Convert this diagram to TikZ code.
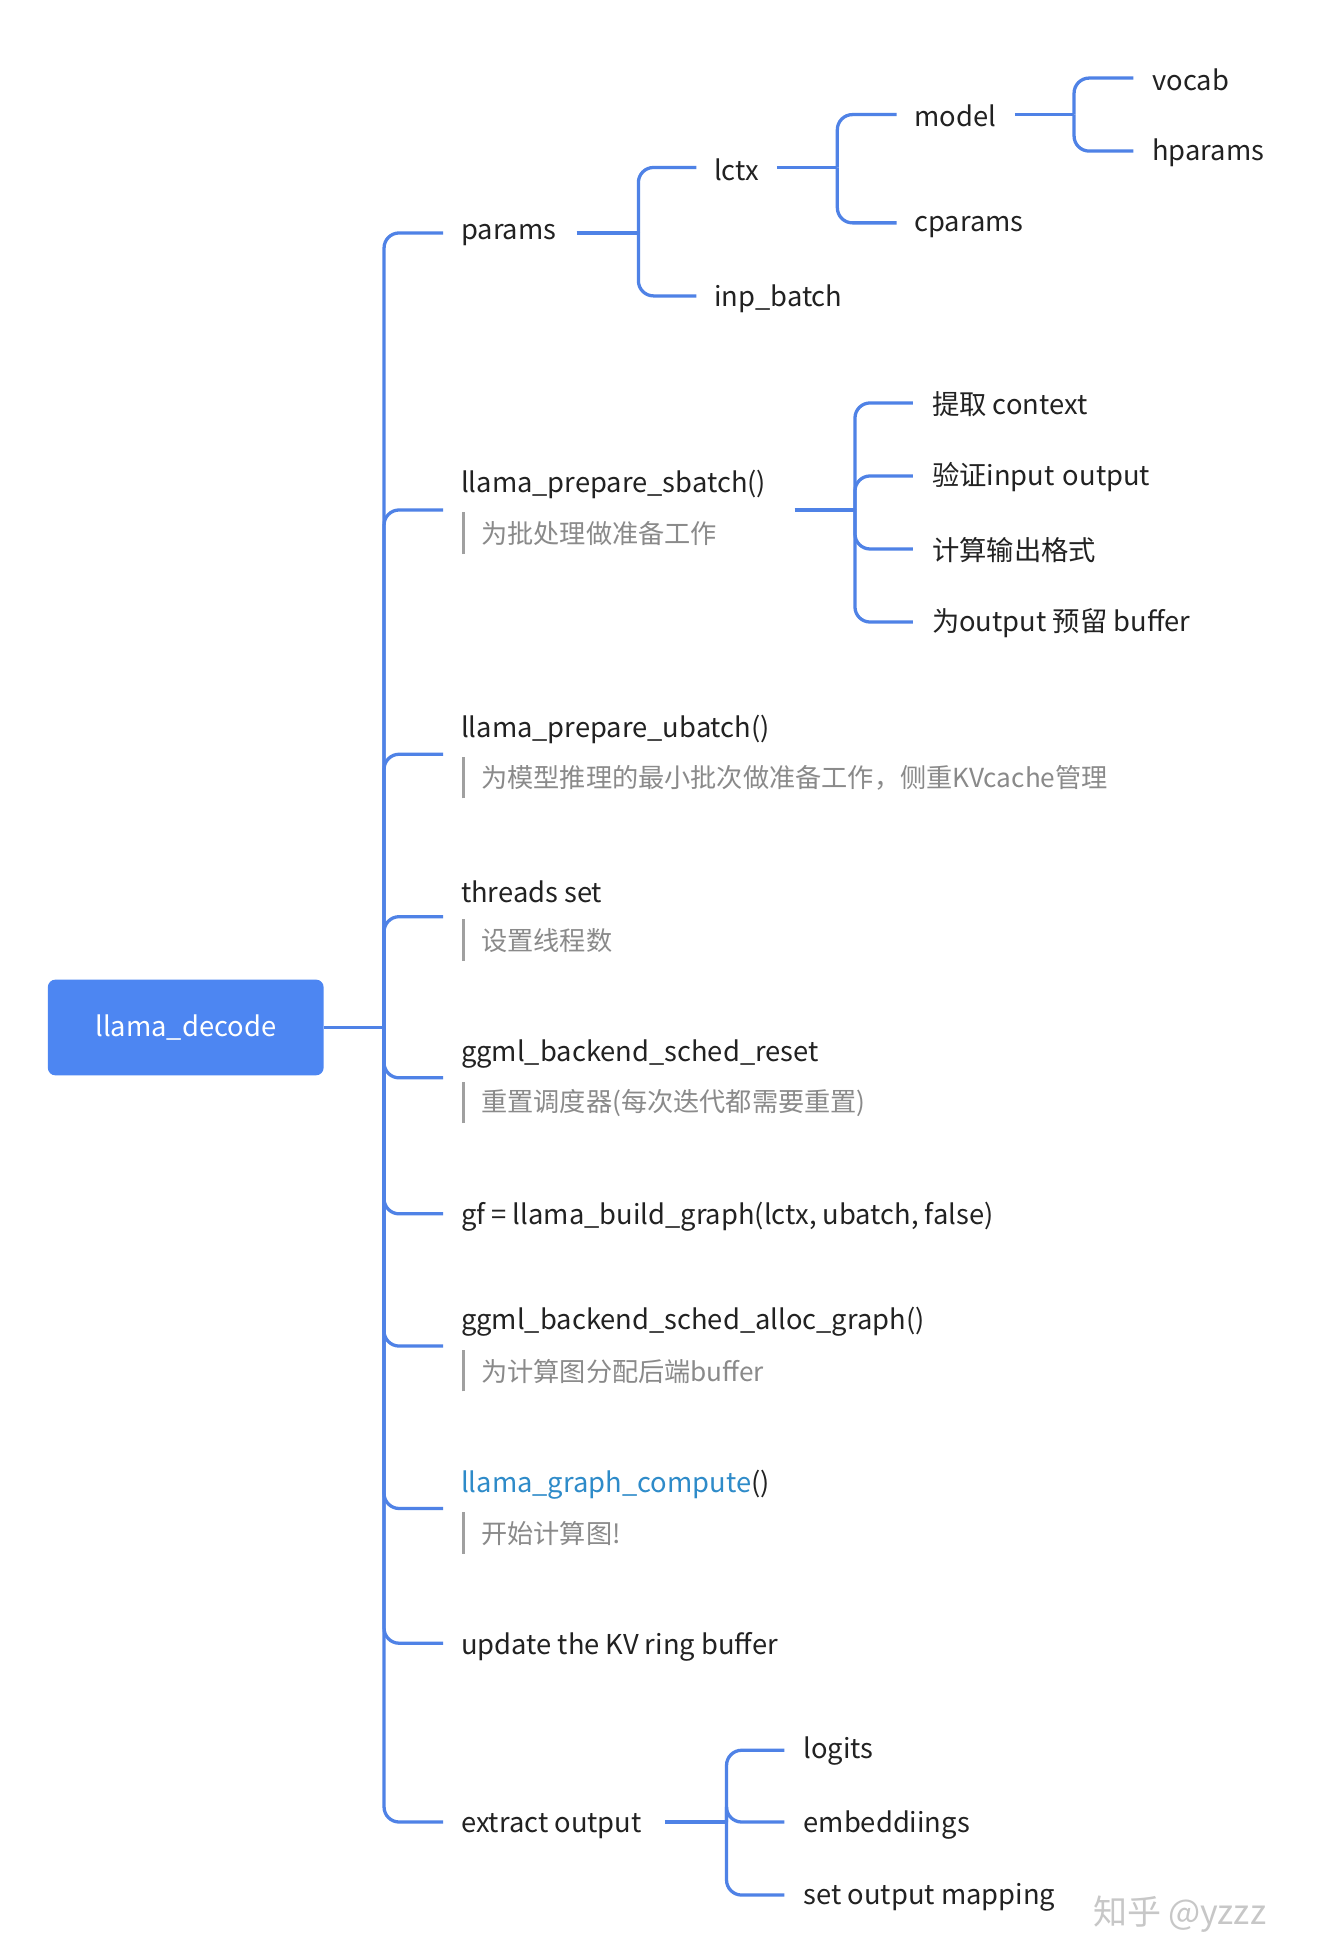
\documentclass[tikz,border=0pt]{standalone}
\usepackage{fontspec}
\setmainfont{Noto Sans CJK SC}
\begin{document}
\begin{tikzpicture}[x=1pt,y=-1pt,
  br/.style={draw=lineblue,line width=2.6pt,rounded corners=12pt},
  lbl/.style={anchor=west,inner sep=0pt,font=\fontsize{21.7}{24}\selectfont,text=txt},
  sub/.style={anchor=west,inner sep=0pt,font=\fontsize{20.8}{24}\selectfont,text=subgrey},
  bar/.style={draw=bargrey,line width=2.5pt}]
\definecolor{lineblue}{HTML}{4F82E6}
\definecolor{rootblue}{HTML}{4D86F2}
\definecolor{txt}{HTML}{222222}
\definecolor{subgrey}{HTML}{8A8A8A}
\definecolor{bargrey}{HTML}{A0A0A0}
\definecolor{linkblue}{HTML}{2E8BC9}
\useasboundingbox (0,0) rectangle (1050,1555);
\fill[white] (0,0) rectangle (1050,1555);
% root
\node[fill=rootblue,rounded corners=6pt,minimum width=219pt,minimum height=76pt,text=white,font=\fontsize{21.7}{24}\selectfont] (root) at (147.5,816) {llama\_decode};
% main items
\node[lbl] (params) at (366,187) {params};
\node[lbl] (sb) at (366,385) {llama\_prepare\_sbatch()};
\node[sub] (sbs) at (382,424) {为批处理做准备工作};
\node[lbl] (ub) at (366,579) {llama\_prepare\_ubatch()};
\node[sub] (ubs) at (382,618) {为模型推理的最小批次做准备工作，侧重KVcache管理};
\node[lbl] (th) at (366,708) {threads set};
\node[sub] (ths) at (382,747) {设置线程数};
\node[lbl] (rs) at (366,837) {ggml\_backend\_sched\_reset};
\node[sub] (rss) at (382,876) {重置调度器(每次迭代都需要重置)};
\node[lbl] (gf) at (366,966) {gf = llama\_build\_graph(lctx, ubatch, false)};
\node[lbl] (al) at (366,1050) {ggml\_backend\_sched\_alloc\_graph()};
\node[sub] (als) at (382,1089) {为计算图分配后端buffer};
\node[lbl] (cp) at (366,1179) {\textcolor{linkblue}{llama\_graph\_compute}()};
\node[sub] (cps) at (382,1218) {开始计算图!};
\node[lbl] (up) at (366,1308) {update the KV ring buffer};
\node[lbl] (ex) at (366,1450) {extract output};
% bars
\foreach \n in {sbs,ubs,ths,rss,als,cps}{\draw[bar] ([xshift=-14pt,yshift=-16pt]\n.west) -- ([xshift=-14pt,yshift=17pt]\n.west);}
% trunk
\coordinate (j0) at (305,816);
\draw[br] (root.east) -- (j0);
\coordinate (t1) at (352,185);
\coordinate (t2) at (352,405);
\coordinate (t3) at (352,599);
\coordinate (t4) at (352,728);
\coordinate (t5) at (352,856);
\coordinate (t6) at (352,964);
\coordinate (t7) at (352,1069);
\coordinate (t8) at (352,1198);
\coordinate (t9) at (352,1305);
\coordinate (t10) at (352,1447);
\foreach \t in {t1,t2,t3,t4,t5,t6,t7,t8,t9,t10}{\draw[br] (j0) |- (\t);}
% params subtree
\node[lbl] (lctx) at (567,135) {lctx};
\node[lbl] (inp) at (567,237) {inp\_batch};
\coordinate (p1) at (507,185);
\draw[br] (458,185) coordinate (ps) -- (p1);
\draw[br] (p1) |- (553,133) coordinate (l1);
\draw[br] (p1) |- (553,235) coordinate (l2);
\node[lbl] (model) at (726,92) {model};
\node[lbl] (cpar) at (726,180) {cparams};
\coordinate (p2) at (665,133);
\draw[br] (617,133) coordinate (ls) -- (p2);
\draw[br] (p2) |- (712,91);
\draw[br] (p2) |- (712,177);
\node[lbl] (vocab) at (915,63) {vocab};
\node[lbl] (hp) at (915,121) {hparams};
\coordinate (p3) at (853,91);
\draw[br] (806,91) coordinate (ms) -- (p3);
\draw[br] (p3) |- (900,62);
\draw[br] (p3) |- (900,120);
% sbatch subtree
\node[lbl] (s1) at (740,321) {提取 context};
\node[lbl] (s2) at (740,379) {验证input\hspace{0.3em}output};
\node[lbl] (s3) at (740,437) {计算输出格式};
\node[lbl] (s4) at (740,495) {为output 预留 buffer};
\coordinate (p4) at (679,405);
\draw[br] (631,405) coordinate (ss) -- (p4);
\foreach \yy in {320,378,436,494}{\draw[br] (p4) |- (725,\yy);}
% extract subtree
\node[lbl] (e1) at (638,1391) {logits};
\node[lbl] (e2) at (638,1449) {embeddiings};
\node[lbl] (e3) at (638,1507) {set output mapping};
\coordinate (p5) at (577,1447);
\draw[br] (528,1447) coordinate (es) -- (p5);
\foreach \yy in {1390,1447,1505}{\draw[br] (p5) |- (623,\yy);}
% watermark
\node[anchor=west,inner sep=0pt,font=\fontsize{27}{28}\selectfont,text=black!22] (wm) at (868,1520) {知乎 @yzzz};
\end{tikzpicture}
\end{document}
